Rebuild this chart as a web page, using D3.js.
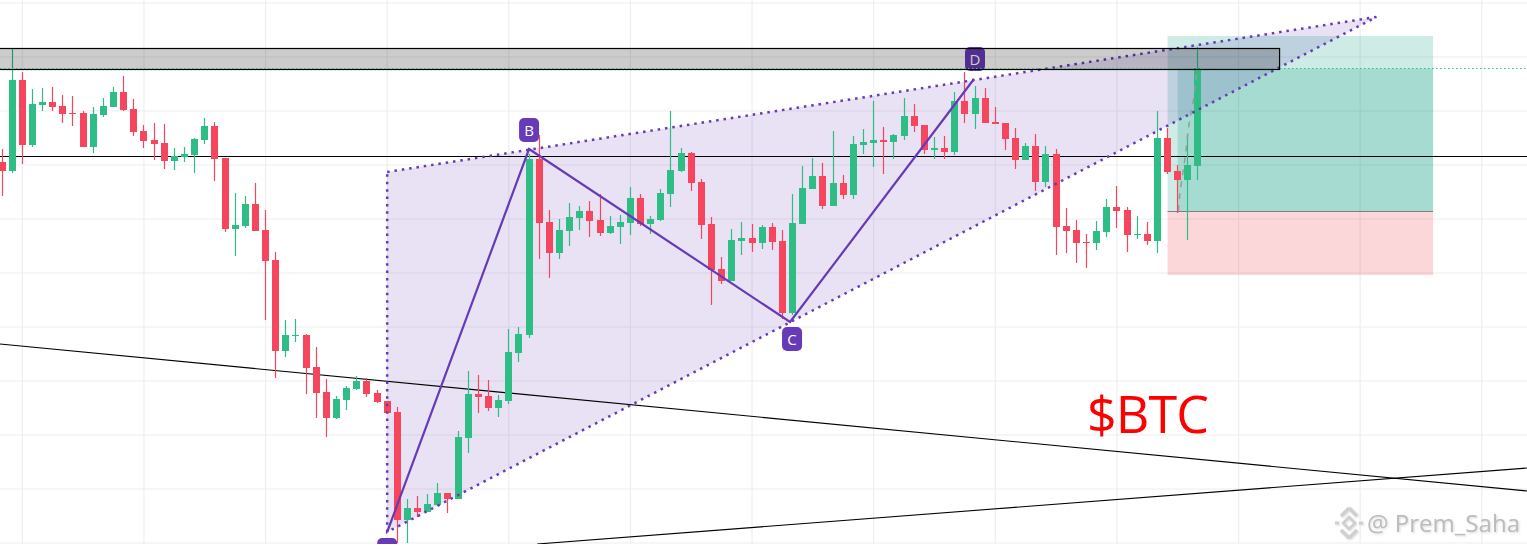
<!DOCTYPE html>
<html lang="en">
<head>
<meta charset="UTF-8">
<title>$BTC</title>
<script src="https://d3js.org/d3.v7.min.js"></script>
<style>
  html, body { margin: 0; padding: 0; background: #fff; overflow: hidden; }
  svg { display: block; }
</style>
</head>
<body>
<svg id="chart" width="1527" height="549"></svg>
<script>
// candle values, one entry per bar
var opens = [438,429,520,455,495,498,494,487,487,453,485,493,508,491,469,460,457,439,443,445,460,474,442,371,374,396,370,340,249,264,265,233,208,182,200,211,219,207,199,188,80,92,88,95,107,101,162,206,204,192,199,247,265,441,378,347,369,382,389,380,367,373,377,402,376,380,406,429,447,418,376,331,319,359,362,357,373,359,287,376,411,424,394,417,405,455,457,460,458,464,484,475,450,452,448,499,486,502,478,477,462,440,454,418,446,374,370,358,357,368,393,390,365,366,359,462,429,420,434];
var highs = [451,551,528,511,512,513,505,504,489,493,502,513,524,501,475,477,476,452,453,462,482,478,442,407,404,417,390,348,280,281,266,253,221,204,214,224,222,210,199,193,101,104,106,117,107,169,229,225,220,205,271,273,446,465,390,381,397,394,399,406,384,385,413,406,384,411,489,452,448,421,383,343,371,378,376,375,377,370,406,434,442,437,469,425,464,471,499,473,466,502,496,475,463,464,508,528,514,512,493,477,472,457,466,454,451,392,380,366,379,401,414,393,384,378,489,472,435,466,553];
var lows = [404,427,436,453,489,489,477,474,453,447,483,493,489,464,452,440,431,430,438,427,456,419,368,344,372,369,280,222,243,258,206,182,163,181,190,210,203,197,187,57,57,83,88,94,87,101,147,187,189,183,196,238,262,341,322,341,354,370,363,364,366,356,365,374,366,379,393,428,409,361,295,316,319,345,348,351,350,281,285,376,411,391,394,401,401,446,433,426,441,460,468,446,441,441,445,477,471,477,476,450,431,440,409,413,345,347,337,332,350,363,372,348,361,355,347,426,387,360,420];
var closes = [429,520,455,496,498,493,486,486,453,486,494,508,490,468,459,456,439,444,446,461,474,441,371,375,396,369,339,249,265,265,232,207,182,201,212,219,206,198,187,80,92,88,96,107,101,163,206,203,192,200,248,266,441,377,347,370,383,389,379,367,374,378,402,376,381,407,430,447,417,375,330,319,360,362,357,373,358,287,377,412,424,394,417,405,456,458,460,458,465,484,474,450,452,448,499,486,502,477,476,461,440,454,418,446,373,369,357,357,369,393,389,365,366,359,462,428,420,435,532];

// grid positions (bar index and price)
var gridBars = [2,14,26,38,50,62,74,86,98,110,122,134,146];
var gridPrices = [597,543,489,435,381,327,273,219,165,111,57];

// harmonic pattern points A B C D, the letter A falls below the chart edge
var patternLabels = ["","B","C","D"];
var patternBars = [38,52,77.75,95.9];
var patternPrices = [68,451,278,521];
var labelShift = [[0,18],[0,-19],[2,17],[1,-20]];

// wedge around the pattern
var wedgeBars = [38,135.6,38];
var wedgePrices = [428,583,68];

// straight lines
var levelPrice = 443.5;
var lastPrice = 531.5;
var trendA = [[-0.22,256],[150.5,109]];
var trendB = [[52.8,56],[150.5,132]];

// zone and long position tool
var zoneBars = [-1,126.05];
var zonePrices = [551.5,530.5];
var posBars = [115,116,141.2];
var posPrices = [564,531.5,388.5,325];
var projBars = [116.07,116.17,116.76,117.15,117.55,117.9];
var projPrices = [389,402,445,478,500,530];

var width = 1527, height = 549, chartBottom = 544;
var x = d3.scaleLinear().domain([0,118]).range([2.05,1197.98]);
var y = d3.scaleLinear().domain([51,600]).range([549,0]);
var px = function(i){ return Math.floor(x(i)) + 0.5; };
var green = "#2ebd85", red = "#f6465d", purple = "#673ab7";
var posGreen = "#089981", posRed = "#f23645";

var root = d3.select("#chart");
root.append("clipPath").attr("id","pane").append("rect")
  .attr("width",width).attr("height",chartBottom);
var svg = root.append("g").attr("clip-path","url(#pane)");

// grid
svg.append("g").selectAll("line").data(gridBars).enter().append("line")
  .attr("x1",function(d){return x(d);}).attr("x2",function(d){return x(d);})
  .attr("y1",0).attr("y2",height)
  .attr("stroke","#eeeeee").attr("stroke-width",1.2);
svg.append("g").selectAll("line").data(gridPrices).enter().append("line")
  .attr("x1",0).attr("x2",width)
  .attr("y1",function(d){return y(d);}).attr("y2",function(d){return y(d);})
  .attr("stroke","#eeeeee").attr("stroke-width",1.2);

// position tool
svg.append("rect").attr("x",x(posBars[0])).attr("y",y(posPrices[0]))
  .attr("width",x(posBars[2])-x(posBars[0])).attr("height",y(posPrices[2])-y(posPrices[0]))
  .attr("fill",posGreen).attr("fill-opacity",0.2);
svg.append("rect").attr("x",x(posBars[1])).attr("y",y(posPrices[1]))
  .attr("width",x(posBars[2])-x(posBars[1])).attr("height",y(posPrices[2])-y(posPrices[1]))
  .attr("fill",posGreen).attr("fill-opacity",0.2);
svg.append("rect").attr("x",x(posBars[0])).attr("y",y(posPrices[2]))
  .attr("width",x(posBars[2])-x(posBars[0])).attr("height",y(posPrices[3])-y(posPrices[2]))
  .attr("fill",posRed).attr("fill-opacity",0.2);
svg.append("line").attr("x1",x(posBars[0])).attr("x2",x(posBars[2]))
  .attr("y1",y(posPrices[2])).attr("y2",y(posPrices[2]))
  .attr("stroke","#8a7a7a").attr("stroke-width",1);

// wedge fill
var pt = d3.line().x(function(d){return x(d[0]);}).y(function(d){return y(d[1]);});
var wedge = d3.zip(wedgeBars,wedgePrices);
svg.append("path").attr("d",pt(wedge)+"Z")
  .attr("fill",purple).attr("fill-opacity",0.15);

// black lines
[trendA,trendB,[[-1,levelPrice],[150.5,levelPrice]]].forEach(function(l){
  svg.append("path").attr("d",pt(l)).attr("fill","none")
    .attr("stroke","#000").attr("stroke-width",1.1);
});

// badges go under the zone so D comes out darker
var badges = svg.append("g").selectAll("g").data(patternLabels).enter().append("g")
  .attr("transform",function(d,i){
    return "translate("+(x(patternBars[i])+labelShift[i][0])+","+(y(patternPrices[i])+labelShift[i][1])+")";
  });
badges.append("rect").attr("x",-10).attr("y",-12).attr("width",20).attr("height",24)
  .attr("rx",5).attr("fill",purple);
badges.append("text").text(function(d){return d;})
  .attr("text-anchor","middle").attr("y",5.5)
  .attr("font-family","'Open Sans', sans-serif").attr("font-size",15)
  .attr("fill","#fff");

// candles
var idx = d3.range(opens.length);
var candles = svg.append("g");
candles.selectAll("line").data(idx).enter().append("line")
  .attr("x1",function(i){return px(i);}).attr("x2",function(i){return px(i);})
  .attr("y1",function(i){return y(highs[i]);}).attr("y2",function(i){return y(lows[i]);})
  .attr("stroke",function(i){return closes[i]>=opens[i]?green:red;}).attr("stroke-width",1.2);
candles.selectAll("rect").data(idx).enter().append("rect")
  .attr("x",function(i){return px(i)-3.5;}).attr("width",7)
  .attr("y",function(i){return y(Math.max(opens[i],closes[i]));})
  .attr("height",function(i){return Math.max(1,Math.abs(y(opens[i])-y(closes[i])));})
  .attr("fill",function(i){return closes[i]>=opens[i]?green:red;});

// projection
svg.append("path").attr("d",d3.line().curve(d3.curveCatmullRom)
    .x(function(d){return x(d[0]);}).y(function(d){return y(d[1]);})(d3.zip(projBars,projPrices)))
  .attr("fill","none").attr("stroke","#9a9a9a").attr("stroke-width",1.5)
  .attr("stroke-dasharray","6 6");

// pattern zigzag and wedge outline
svg.append("path").attr("d",pt(d3.zip(patternBars,patternPrices))).attr("fill","none")
  .attr("stroke",purple).attr("stroke-width",2.2);
svg.append("path").attr("d",pt(wedge)+"Z").attr("fill","none")
  .attr("stroke",purple).attr("stroke-width",2.5).attr("stroke-dasharray","2.5 4.9");

// grey zone
svg.append("rect").attr("x",x(zoneBars[0])).attr("y",y(zonePrices[0]))
  .attr("width",x(zoneBars[1])-x(zoneBars[0])).attr("height",y(zonePrices[1])-y(zonePrices[0]))
  .attr("fill","#000").attr("fill-opacity",0.2)
  .attr("stroke","#000").attr("stroke-width",1.2);

// last price line
svg.append("line").attr("x1",0).attr("x2",width)
  .attr("y1",y(lastPrice)).attr("y2",y(lastPrice))
  .attr("stroke",green).attr("stroke-width",1).attr("stroke-dasharray","1.5 2.5");

// title
svg.append("text").text("$BTC").attr("x",1087).attr("y",433)
  .attr("font-family","'Open Sans', sans-serif").attr("font-size",52)
  .attr("fill","#ff0000").attr("textLength",122);

// watermark
var mark = root.append("g").attr("transform","translate(1349,523)")
  .attr("fill","none").attr("stroke","#cfcfcf").attr("stroke-width",3.2)
  .style("filter","drop-shadow(1px 1px 1px rgba(0,0,0,0.15))");
mark.append("path").attr("d","M0,-15 L8,-7 M0,-15 L-8,-7 M0,15 L8,7 M0,15 L-8,7");
mark.append("path").attr("d","M-14,0 L-10,0 M14,0 L10,0");
mark.append("path").attr("d","M0,-6 L6,0 L0,6 L-6,0Z").attr("stroke-width",2.5);
root.append("text").text("@ Prem_Saha").attr("x",1367).attr("y",532)
  .attr("font-family","'Open Sans', sans-serif").attr("font-size",24)
  .attr("fill","#bcbcbc").attr("textLength",153)
  .style("filter","drop-shadow(1px 1px 1px rgba(0,0,0,0.15))");
</script>
</body>
</html>
